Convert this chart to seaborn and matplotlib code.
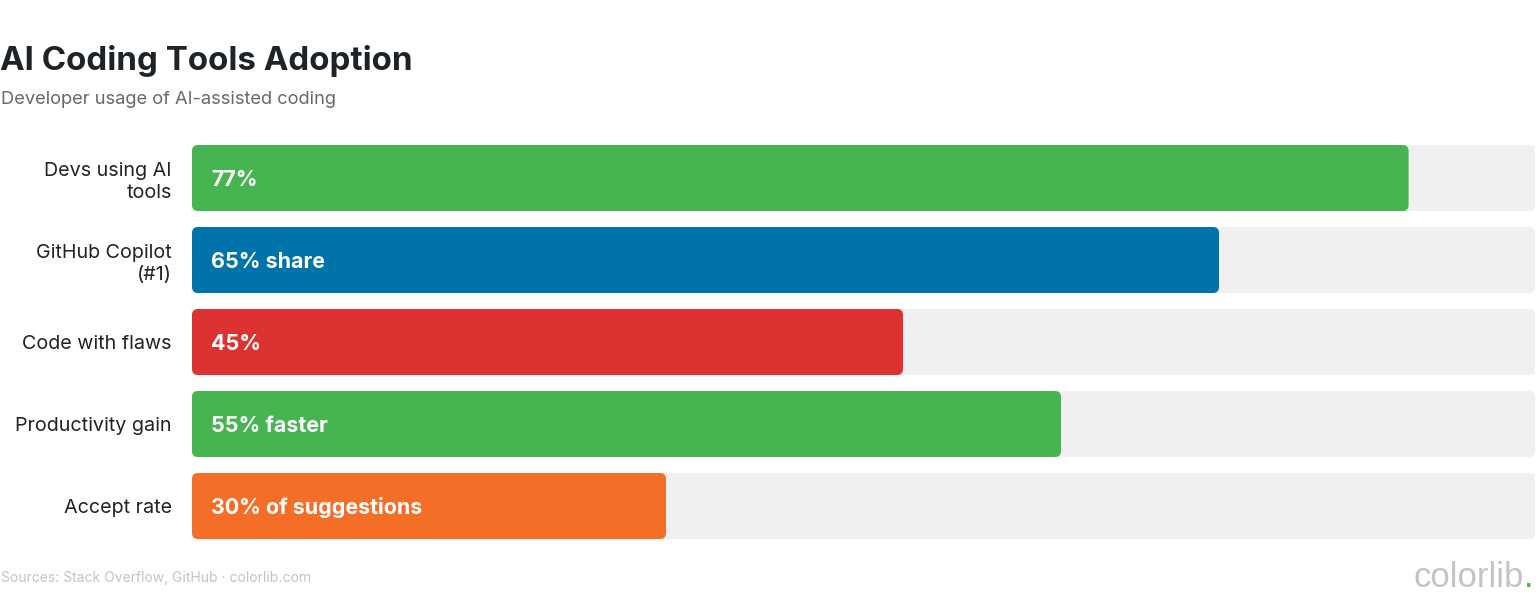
import matplotlib
matplotlib.use("Agg")
import matplotlib.pyplot as plt
import seaborn as sns
import pandas as pd
from matplotlib.patches import FancyBboxPatch

categories = ["Devs using AI\ntools", "GitHub Copilot\n(#1)", "Code with flaws", "Productivity gain", "Accept rate"]
values = [77, 65, 45, 55, 30]
bar_labels = ["77%", "65% share", "45%", "55% faster", "30% of suggestions"]
colors = ["#46b450", "#0073aa", "#dc3232", "#46b450", "#f56e28"]
track_max = 85

title = "AI Coding Tools Adoption"
subtitle = "Developer usage of AI-assisted coding"
source = "Sources: Stack Overflow, GitHub · colorlib.com"

sns.set_theme(style="white")
plt.rcParams["font.family"] = ["Inter", "DejaVu Sans"]

W, H = 1536, 613
fig = plt.figure(figsize=(W / 100, H / 100), dpi=100)
fig.patch.set_facecolor("white")

ax_left, ax_right = 192, 1535
ax_top, ax_bot = 137, 547
ax = fig.add_axes([ax_left / W, 1 - ax_bot / H, (ax_right - ax_left) / W, (ax_bot - ax_top) / H])

vmax = track_max
df = pd.DataFrame({"cat": categories, "val": values, "track": [vmax] * len(values)})

sns.barplot(data=df, y="cat", x="track", color="#f0f0f1", width=0.805, ax=ax, orient="h", saturation=1)
sns.barplot(data=df, y="cat", x="val", hue="cat", palette=colors, width=0.805, ax=ax, orient="h",
            saturation=1, legend=False)

ax.set_xlim(0, vmax)
ax.set_ylim(len(values) - 0.5, -0.5)

# convert to rounded bars
x_per_px = vmax / (ax_right - ax_left)
y_per_px = len(values) / (ax_bot - ax_top)
r_px = 6
patches = list(ax.patches)
for p in patches:
    x0, y0 = p.get_x(), p.get_y()
    w, h = p.get_width(), p.get_height()
    fc = p.get_facecolor()
    p.set_visible(False)
    fb = FancyBboxPatch((x0, y0), w, h,
                        boxstyle=f"round,pad=0,rounding_size={r_px * x_per_px}",
                        mutation_aspect=y_per_px / x_per_px,
                        facecolor=fc, edgecolor="none", zorder=p.get_zorder())
    ax.add_patch(fb)

for i, (v, t) in enumerate(zip(values, bar_labels)):
    ax.text(19 * x_per_px, i + 0.02, t, color="white", fontsize=15.4, fontweight="bold",
            va="center", ha="left")

ax.set_xlabel("")
ax.set_ylabel("")
ax.set_xticks([])
ax.tick_params(axis="y", length=0, pad=14.5, labelsize=14.2, labelcolor="#1d2327")
for lbl in ax.get_yticklabels():
    lbl.set_linespacing(1.3)
for s in ax.spines.values():
    s.set_visible(False)
ax.set_facecolor("none")

fig.text(0 / W, 1 - 70 / H, title, fontsize=23.8, fontweight="bold", color="#1d2327", ha="left", va="baseline")
fig.text(1 / W, 1 - 104 / H, subtitle, fontsize=13.2, color="#646970", ha="left", va="baseline")
fig.text(1 / W, 1 - 582 / H, source, fontsize=10, color="#c3c4c7", ha="left", va="baseline")
fig.text(1524 / W, 1 - 587 / H, "colorlib", fontsize=25, color="#c3c4c7", ha="right", va="baseline",
         family=["Liberation Sans", "DejaVu Sans"])
fig.text(1524 / W, 1 - 587 / H, ".", fontsize=25, color="#46b450", ha="left", va="baseline",
         family=["Liberation Sans", "DejaVu Sans"])

fig.savefig("out.png", dpi=100, facecolor="white")
